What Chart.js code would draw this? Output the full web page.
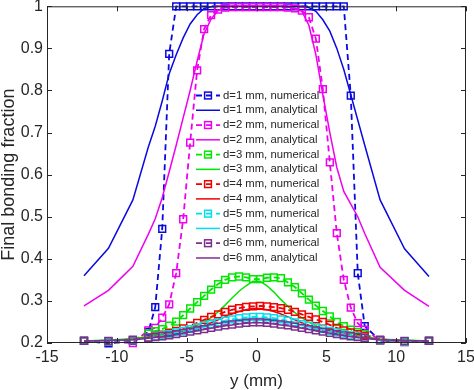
<!DOCTYPE html>
<html>
<head>
<meta charset="utf-8">
<script src="https://cdn.jsdelivr.net/npm/chart.js@4.4.1/dist/chart.umd.min.js"></script>
<style>
  html, body { margin: 0; padding: 0; background: #fff; }
  canvas { display: block; }
</style>
</head>
<body>
<canvas id="bondingChart" width="474" height="390"></canvas>
<script>
// y position across the joint (mm)
const yPos = [-12.35, -10.6, -8.85, -7.75, -7.25, -6.75, -6.25, -5.75, -5.25, -4.75, -4.25, -3.75, -3.25,
    -2.75, -2.25, -1.75, -1.25, -0.75, -0.25, 0.25, 0.75, 1.25, 1.75, 2.25, 2.75, 3.25, 3.75, 4.25, 4.75,
    5.25, 5.75, 6.25, 6.75, 7.25, 7.75, 8.85, 10.6, 12.35];

// final bonding fraction, numerical (squares) and analytical (lines)
const num1 = [0.205, 0.199, 0.205, 0.226, 0.285, 0.471, 0.887, 1, 1, 1, 1, 1, 1, 1, 1, 1, 1, 1, 1, 1, 1, 1,
    1, 1, 1, 1, 1, 1, 1, 1, 1, 1, 0.788, 0.366, 0.24, 0.206, 0.202, 0.205];
const ana1 = [0.36, 0.425, 0.54, 0.665, 0.715, 0.775, 0.84, 0.885, 0.925, 0.958, 0.98, 0.995, 0.999, 1, 1, 1,
    1, 1, 1, 1, 1, 1, 1, 1, 1, 1, 0.997, 0.988, 0.968, 0.941, 0.9, 0.85, 0.79, 0.73, 0.67, 0.54, 0.424, 0.358];
const num2 = [0.205, 0.203, 0.2, 0.23, 0.236, 0.26, 0.292, 0.366, 0.494, 0.676, 0.848, 0.946, 0.979, 0.992,
    0.997, 0.998, 0.998, 0.998, 0.998, 0.998, 0.998, 0.998, 0.998, 0.997, 0.995, 0.99, 0.974, 0.923, 0.803,
    0.629, 0.461, 0.35, 0.284, 0.247, 0.232, 0.206, 0.203, 0.205];
const ana2 = [0.288, 0.325, 0.382, 0.458, 0.495, 0.545, 0.607, 0.67, 0.735, 0.8, 0.87, 0.935, 0.97, 0.99, 0.998,
    1, 1, 1, 1, 1, 1, 1, 1, 0.998, 0.994, 0.988, 0.955, 0.885, 0.79, 0.7, 0.617, 0.56, 0.53, 0.5, 0.46, 0.38,
    0.325, 0.287];
const num3 = [0.205, 0.204, 0.207, 0.222, 0.228, 0.233, 0.241, 0.251, 0.266, 0.282, 0.297, 0.312, 0.327, 0.34,
    0.35, 0.356, 0.358, 0.356, 0.352, 0.352, 0.355, 0.356, 0.354, 0.344, 0.333, 0.318, 0.303, 0.289, 0.276,
    0.263, 0.25, 0.24, 0.232, 0.226, 0.221, 0.207, 0.204, 0.205];
const ana3 = [0.205, 0.207, 0.21, 0.215, 0.218, 0.221, 0.224, 0.228, 0.232, 0.237, 0.243, 0.25, 0.26, 0.274,
    0.29, 0.307, 0.323, 0.336, 0.347, 0.347, 0.336, 0.321, 0.303, 0.287, 0.272, 0.26, 0.249, 0.241, 0.234,
    0.229, 0.225, 0.222, 0.219, 0.216, 0.214, 0.209, 0.207, 0.205];
const num4 = [0.205, 0.204, 0.207, 0.213, 0.216, 0.22, 0.224, 0.229, 0.235, 0.241, 0.248, 0.255, 0.262, 0.268,
    0.274, 0.279, 0.283, 0.286, 0.287, 0.288, 0.287, 0.285, 0.283, 0.279, 0.274, 0.268, 0.262, 0.256, 0.25,
    0.243, 0.236, 0.23, 0.225, 0.221, 0.217, 0.207, 0.204, 0.205];
const ana4 = [0.205, 0.206, 0.209, 0.213, 0.215, 0.218, 0.221, 0.224, 0.228, 0.232, 0.237, 0.242, 0.248, 0.255,
    0.262, 0.269, 0.275, 0.279, 0.282, 0.282, 0.279, 0.275, 0.269, 0.262, 0.255, 0.248, 0.242, 0.237, 0.232,
    0.228, 0.224, 0.221, 0.218, 0.215, 0.213, 0.209, 0.206, 0.205];
const num5 = [0.205, 0.204, 0.207, 0.212, 0.215, 0.218, 0.221, 0.225, 0.229, 0.233, 0.237, 0.241, 0.245, 0.249,
    0.253, 0.256, 0.259, 0.261, 0.262, 0.262, 0.261, 0.259, 0.256, 0.253, 0.249, 0.245, 0.241, 0.237, 0.233,
    0.229, 0.225, 0.221, 0.218, 0.215, 0.212, 0.207, 0.204, 0.205];
const ana5 = [0.205, 0.206, 0.208, 0.212, 0.214, 0.217, 0.22, 0.223, 0.226, 0.23, 0.234, 0.238, 0.242, 0.246,
    0.25, 0.253, 0.256, 0.258, 0.259, 0.259, 0.258, 0.256, 0.253, 0.25, 0.246, 0.242, 0.238, 0.234, 0.23,
    0.226, 0.223, 0.22, 0.217, 0.214, 0.212, 0.208, 0.206, 0.205];
const num6 = [0.205, 0.205, 0.208, 0.212, 0.214, 0.216, 0.218, 0.221, 0.224, 0.227, 0.23, 0.233, 0.236, 0.239,
    0.242, 0.244, 0.246, 0.248, 0.249, 0.249, 0.248, 0.246, 0.244, 0.242, 0.239, 0.236, 0.233, 0.23, 0.227,
    0.224, 0.221, 0.218, 0.216, 0.214, 0.212, 0.208, 0.205, 0.205];
const ana6 = [0.205, 0.206, 0.208, 0.211, 0.213, 0.215, 0.217, 0.22, 0.223, 0.226, 0.229, 0.232, 0.235, 0.238,
    0.241, 0.243, 0.245, 0.247, 0.248, 0.248, 0.247, 0.245, 0.243, 0.241, 0.238, 0.235, 0.232, 0.229, 0.226,
    0.223, 0.22, 0.217, 0.215, 0.213, 0.211, 0.208, 0.206, 0.205];

const widths = [1, 2, 3, 4, 5, 6];
const numerical = [num1, num2, num3, num4, num5, num6];
const analytical = [ana1, ana2, ana3, ana4, ana5, ana6];
const colors = ['#0a0ae0', '#f000f0', '#00e600', '#f00000', '#00e0f0', '#7e2f8e'];

const xTicks = [-15, -10, -5, 0, 5, 10, 15];
const yTicks = [0.2, 0.3, 0.4, 0.5, 0.6, 0.7, 0.8, 0.9, 1];

const axisColor = '#262626';
const fontFamily = '"Liberation Sans", Arial, sans-serif';

const toPoints = vals => vals.map((v, i) => ({ x: yPos[i], y: v }));

const datasets = [];
const legendLabels = [];
widths.forEach((d, i) => {
    datasets.push({
        label: 'd=' + d + ' mm, numerical',
        data: toPoints(numerical[i]),
        borderColor: colors[i],
        borderWidth: 1.8,
        borderDash: [6, 4],
        pointStyle: 'rect',
        pointRadius: 4.8,
        pointBorderWidth: 1.5,
        pointBorderColor: colors[i],
        pointBackgroundColor: 'rgba(0,0,0,0)',
        showLine: true,
        clip: false,
        order: 12 - 2 * i
    });
    datasets.push({
        label: 'd=' + d + ' mm, analytical',
        data: toPoints(analytical[i]),
        borderColor: colors[i],
        borderWidth: 1.5,
        pointRadius: 0,
        showLine: true,
        clip: false,
        order: 11 - 2 * i
    });
    legendLabels.push('d=' + d + ' mm, numerical', 'd=' + d + ' mm, analytical');
});

// box, inward ticks and the legend (MATLAB style)
const matlabFrame = {
    id: 'matlabFrame',
    afterDraw(chart) {
        const { ctx, chartArea: a, scales } = chart;
        ctx.save();
        ctx.strokeStyle = axisColor;
        ctx.lineWidth = 1;
        ctx.setLineDash([]);
        ctx.strokeRect(a.left + 0.5, a.top + 0.5, a.right - a.left - 1, a.bottom - a.top - 1);
        ctx.beginPath();
        xTicks.forEach(v => {
            const px = Math.round(scales.x.getPixelForValue(v)) + 0.5;
            ctx.moveTo(px, a.bottom); ctx.lineTo(px, a.bottom - 5);
            ctx.moveTo(px, a.top); ctx.lineTo(px, a.top + 5);
        });
        yTicks.forEach(v => {
            const py = Math.round(scales.y.getPixelForValue(v)) + 0.5;
            ctx.moveTo(a.left, py); ctx.lineTo(a.left + 5, py);
            ctx.moveTo(a.right, py); ctx.lineTo(a.right - 5, py);
        });
        ctx.stroke();

        // legend
        ctx.font = '11.3px ' + fontFamily;
        ctx.textBaseline = 'middle';
        ctx.textAlign = 'left';
        legendLabels.forEach((label, i) => {
            const y = 95.5 + i * 14.77;
            const col = colors[Math.floor(i / 2)];
            const isNum = i % 2 === 0;
            ctx.strokeStyle = col;
            ctx.lineWidth = isNum ? 1.8 : 1.5;
            ctx.setLineDash(isNum ? [6, 4] : []);
            ctx.beginPath();
            ctx.moveTo(196, y); ctx.lineTo(220, y);
            ctx.stroke();
            if (isNum) {
                ctx.setLineDash([]);
                ctx.lineWidth = 1.5;
                ctx.strokeRect(208 - 3.4, y - 3.4, 6.8, 6.8);
            }
            ctx.fillStyle = axisColor;
            ctx.fillText(label, 223, y);
        });
        ctx.restore();
    }
};

new Chart(document.getElementById('bondingChart').getContext('2d'), {
    type: 'scatter',
    data: { datasets: datasets },
    options: {
        responsive: false,
        animation: false,
        devicePixelRatio: 1,
        layout: { padding: { top: 5, right: 8, left: 0, bottom: 0 } },
        plugins: {
            legend: { display: false },
            tooltip: { enabled: false }
        },
        elements: { line: { tension: 0 } },
        scales: {
            x: {
                type: 'linear',
                min: -15,
                max: 15,
                afterBuildTicks: s => { s.ticks = xTicks.map(v => ({ value: v })); },
                afterFit: s => { s.height = 47; s.paddingLeft = 0; s.paddingRight = 0; },
                ticks: {
                    color: axisColor,
                    padding: 5,
                    maxRotation: 0,
                    callback: v => String(v),
                    font: { family: fontFamily, size: 16 }
                },
                grid: { drawOnChartArea: false, drawTicks: false },
                border: { display: false },
                title: {
                    display: true,
                    text: 'y (mm)',
                    color: axisColor,
                    padding: { top: 0, bottom: 0 },
                    font: { family: fontFamily, size: 17, lineHeight: 1 }
                }
            },
            y: {
                min: 0.2,
                max: 1,
                afterBuildTicks: s => { s.ticks = yTicks.map(v => ({ value: v })); },
                afterFit: s => { s.width = 47; s.paddingTop = 0; s.paddingBottom = 0; },
                ticks: {
                    color: axisColor,
                    padding: 4,
                    callback: v => String(Math.round(v * 10) / 10),
                    font: { family: fontFamily, size: 16 }
                },
                grid: { drawOnChartArea: false, drawTicks: false },
                border: { display: false },
                title: {
                    display: true,
                    text: 'Final bonding fraction',
                    color: axisColor,
                    padding: { top: 0, bottom: 0 },
                    font: { family: fontFamily, size: 18, lineHeight: 1 }
                }
            }
        }
    },
    plugins: [matlabFrame]
});
</script>
</body>
</html>
